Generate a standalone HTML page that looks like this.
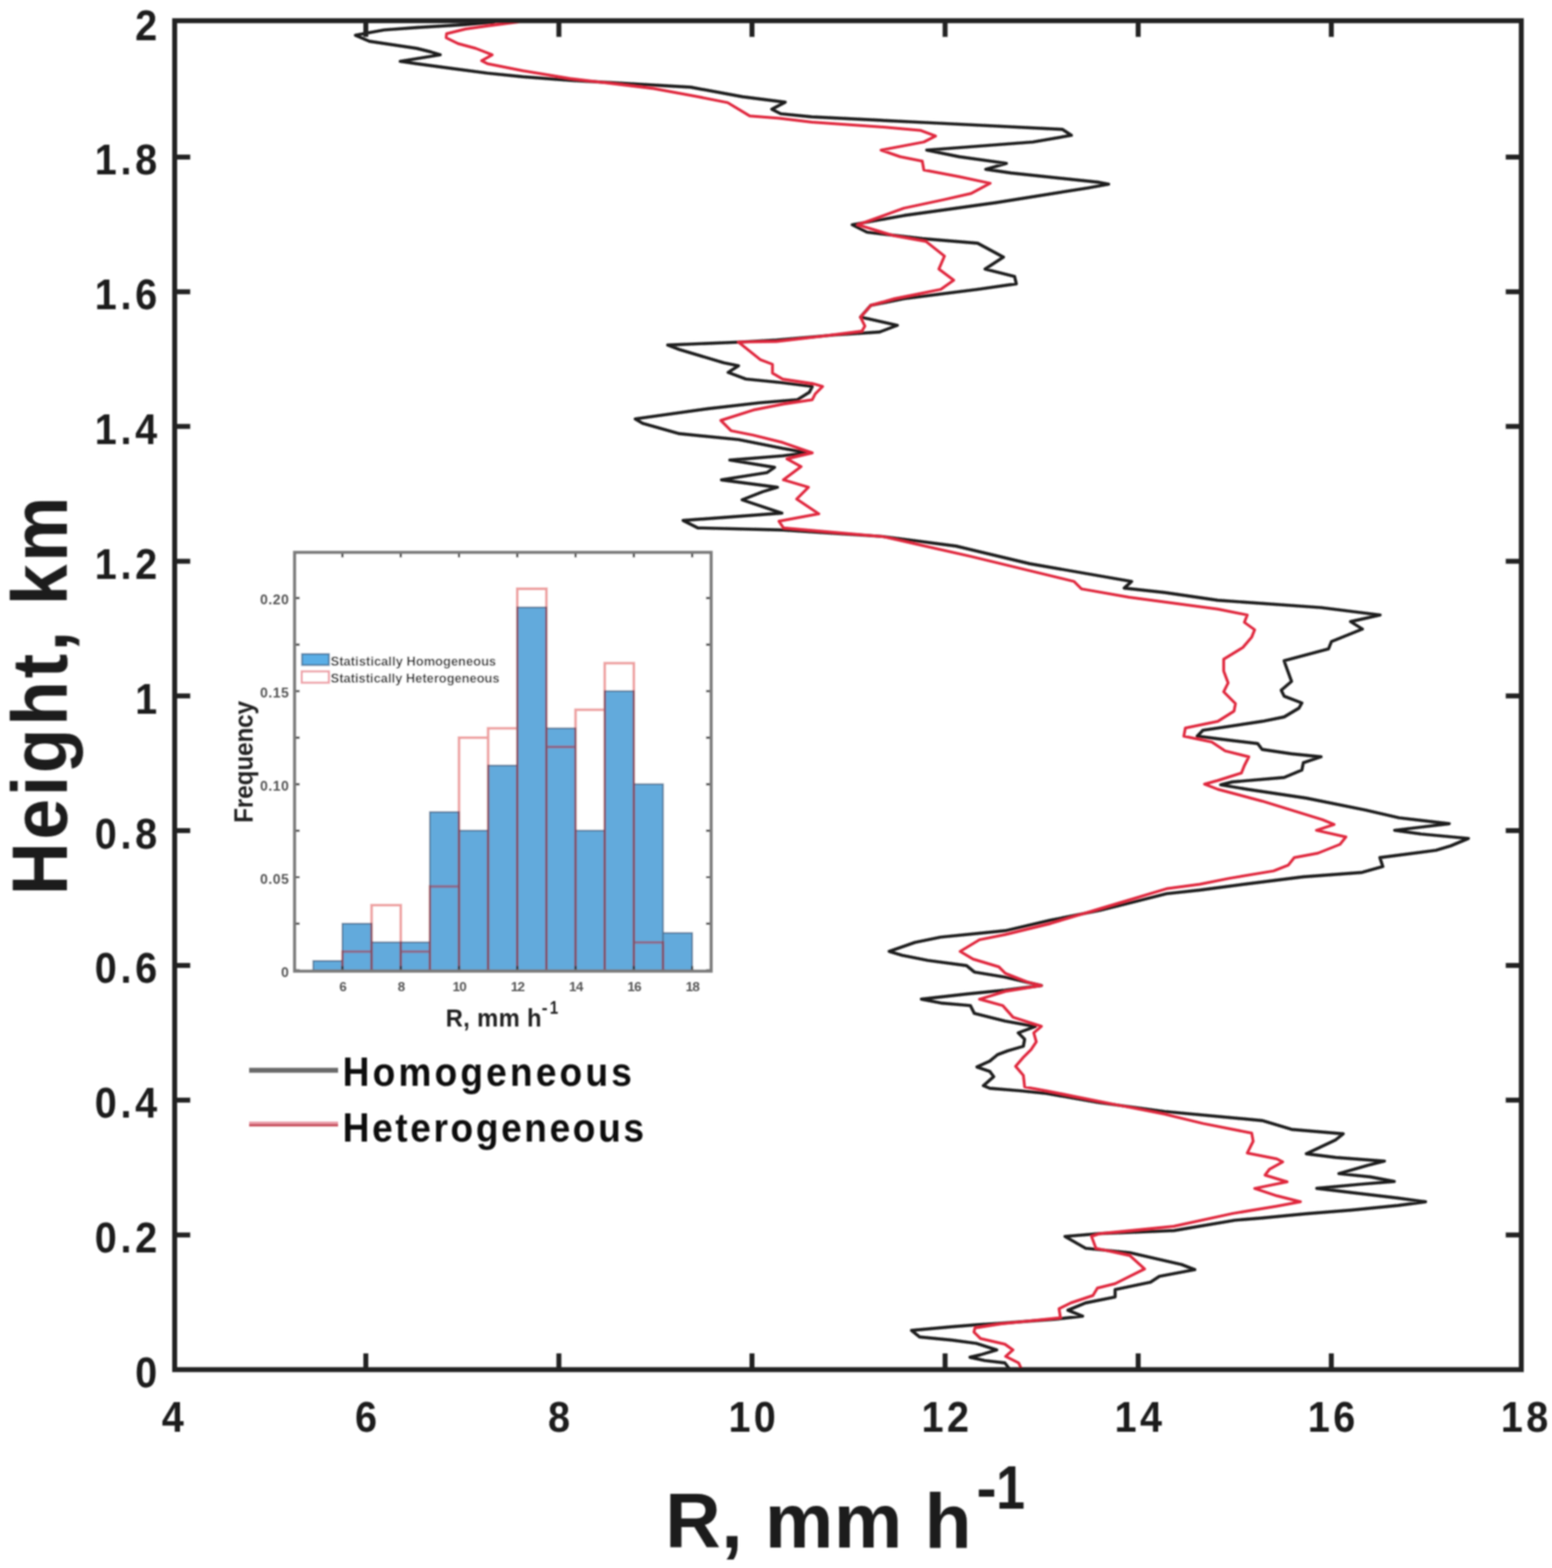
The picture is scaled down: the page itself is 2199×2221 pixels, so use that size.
<!DOCTYPE html>
<html lang="en"><head><meta charset="utf-8"><title>Rain rate vertical profile</title>
<style>html,body{margin:0;padding:0;background:#fff;}svg{display:block;}text{font-family:"Liberation Sans",Arial,Helvetica,sans-serif;font-weight:bold;}</style>
</head><body>
<svg xmlns="http://www.w3.org/2000/svg" width="2199" height="2221" viewBox="0 0 2199 2221">
<rect x="0" y="0" width="2199" height="2221" fill="#fff"/>
<defs><filter id="soft" x="0" y="0" width="100%" height="100%" filterUnits="userSpaceOnUse"><feGaussianBlur stdDeviation="0.85"/></filter></defs>
<g filter="url(#soft)">
<defs><clipPath id="cp"><rect x="247.5" y="29.3" width="1908.0" height="1910.7"/></clipPath></defs>
<g clip-path="url(#cp)" fill="none" stroke-linejoin="round" stroke-linecap="round">
<polyline points="700,31.5 657,35 590.6,39 544.4,42.4 503.6,49.9 523.5,58.5 590.4,68.5 610.4,73.5 623.8,77.7 567,86.9 590.4,90.3 640.5,97 690.7,103.6 741,108.7 807.8,113.7 978.6,123.5 1051.8,137 1112.5,144.8 1093.6,154.8 1106.2,161.1 1150,165.5 1317.3,173.9 1505.5,183.3 1518,191.7 1463.6,201.1 1313,212.6 1359,222 1426,231.4 1396.7,239.8 1432.3,245 1557.7,258.3 1570.8,260.9 1542,266.1 1411.4,287 1280.7,305.3 1207.5,318.4 1228.4,328.9 1306.8,338 1385.2,344.5 1421.8,364.2 1395.7,381.1 1437.5,391.6 1440,402 1385.2,409.9 1280.7,423 1233.8,432.5 1219.2,449.3 1229.6,451.4 1271.5,460.8 1246.4,470.2 1183.6,474.4 1100,481.7 1046.4,484.6 946,488.8 962.7,495.1 1025.5,513.9 1046.4,518.1 1031.7,527.5 1056.8,536.9 1109,542.1 1150.9,547.4 1146.7,555.7 1130,566.2 1077.7,570.4 1004.5,578.7 900,593.4 910.5,599.6 962.7,614.3 1046.4,622.6 1109,635.2 1145,641.5 1109,645.6 1034,651.7 1097.5,662 1087,669.3 1022.2,679.7 1101.6,690.2 1080.7,696.5 1051.5,708 1107.9,726.8 967.8,737.2 988.7,747.7 1110,750.8 1250,759.9 1354.5,773.5 1459.1,798.5 1603.4,823.6 1592.9,833 1650,839.3 1725.5,850.2 1871.8,860.6 1955.5,871.1 1913.6,880.5 1930.4,891 1886.5,908.7 1882.3,919.2 1819.5,935.9 1821.6,942.2 1830,965.2 1815.4,977.7 1819.5,986.1 1844.6,995.7 1840.5,1003 1819.5,1015.5 1788.2,1021.8 1704.5,1034.4 1696.2,1042.7 1746.4,1049 1781.9,1053.2 1788.2,1061.5 1830,1067.8 1871.8,1072 1846.7,1080.4 1844.6,1090.8 1819.5,1101.3 1746.4,1107.5 1729.6,1111.7 1767.3,1118 1850.9,1130.5 1934.6,1147.3 1982.3,1158.4 2053.4,1166.7 1976,1176.1 2013.6,1181.4 2080.6,1187.6 2055.5,1198.1 2034.6,1204.4 1955.1,1214.8 1959.3,1227.4 1930,1235.7 1846.4,1242 1762.7,1252.5 1700,1260.8 1652.9,1265.9 1558.8,1289.4 1488.2,1303.5 1424.4,1318.3 1333,1327.4 1296.4,1334.8 1259.8,1347.6 1278.1,1353.1 1314.7,1360.4 1369.5,1367.7 1380.5,1376.8 1424.4,1384.2 1475.6,1396 1424.4,1402.5 1369.5,1408 1305.5,1415.3 1333,1420.7 1375,1424.4 1380.5,1435.4 1424.4,1446.4 1467,1454 1442.7,1463 1451.8,1472 1450,1482 1428,1488.4 1413.4,1493.9 1402.4,1503 1384.2,1511.3 1402.4,1517.7 1408,1525 1393.3,1537.8 1402.4,1541.5 1446.4,1545.1 1483,1548.8 1556.1,1561.6 1650,1574.4 1788.2,1587.2 1830,1599.7 1903.2,1606 1892.7,1614.4 1850.9,1634.2 1892.7,1639.5 1961.7,1644.7 1938,1650.6 1897,1662.4 1941.5,1667 1975.5,1673.5 1928.4,1677.4 1865.7,1683.3 1915.3,1689.2 1980.7,1697 2019.9,1702.3 1980.7,1707.5 1915.3,1714 1850,1719.3 1788.2,1725.2 1750,1728.4 1663.6,1743 1559.1,1747.2 1508.9,1751.4 1538.2,1768.1 1600.9,1774.4 1674.1,1791.1 1692.9,1798.4 1642.7,1807.8 1630.2,1816.2 1580,1826.6 1580,1837.1 1538.2,1845.5 1513.1,1855.9 1534,1864.3 1496.4,1868.5 1412.7,1874.7 1383.5,1876.5 1349,1879.3 1291.5,1884.5 1303,1893.7 1349,1898.3 1383.5,1902.9 1412.3,1912.1 1389.3,1919 1374.3,1922.5 1395,1927.1 1423.8,1930.5 1429.5,1938" stroke="#1e1e1e" stroke-width="4.4"/>
<polyline points="735,31 690.7,36.7 660,41 632.7,47.8 632.2,53.5 649,61.8 674,68.5 697.4,77.7 682.4,86 690.7,90.3 741,100.3 807.8,111.2 926.4,125.5 989,137 1031,145.4 1062.3,164.2 1104,167.4 1150,172.9 1254.5,180.2 1304.7,184.8 1325.6,192.7 1309,201.1 1248.3,212.6 1275.5,222 1306.8,228.3 1309,240.8 1359,250.2 1403,259.6 1376,274 1338.2,282.6 1280.7,294.9 1215.3,318.4 1267.6,334.1 1312,342 1338.2,362.8 1330.3,381.1 1351.3,396.8 1333,409.9 1267.6,423 1233.8,432.5 1219.2,449.3 1225.5,461.8 1221.3,469.1 1162.7,476.5 1100,483.8 1046.4,484.6 1056.8,493 1077.7,509.7 1094.5,516 1094.5,528.5 1109,536.9 1150.9,543.2 1165.6,547.4 1155.1,557.8 1150.9,566.2 1109,572.5 1067.3,580.8 1021.3,595.5 1035.9,610.1 1067.3,616.4 1109,626.8 1150.9,641.5 1115,650 1135.1,660.9 1110,679.7 1145.5,690.2 1128.8,706.9 1160.2,727.8 1103.7,738.3 1110,747.7 1250,759.9 1375.5,788.1 1521.8,823.6 1532.3,834.1 1600,846 1725.5,862.7 1767.3,871.1 1763.1,881.5 1777.7,892 1773.5,902.5 1761,917.1 1733.8,933.8 1733.8,950.5 1740.1,967.3 1733.8,979.8 1750.5,996.6 1748.5,1007.2 1725.5,1021.8 1679.5,1031.2 1677.4,1042.7 1717.1,1051.1 1735.9,1063.6 1769.4,1072 1763.1,1084.5 1758.9,1095 1725.5,1105.5 1706.6,1110.7 1725.5,1118 1788.2,1134.7 1874,1161.2 1890.3,1167.8 1865.2,1176.1 1907,1185.5 1898.6,1196 1867.3,1208.5 1833.8,1214.8 1825.5,1225.3 1804.5,1233.6 1741.8,1244.1 1700,1252.5 1652.9,1258.8 1558.8,1287 1488.2,1308.2 1424.4,1323.8 1387.8,1331.1 1360.4,1347.6 1378.7,1358.5 1415.3,1369.5 1424.4,1378.7 1457.4,1391.5 1475.6,1396 1424.4,1404.3 1387.8,1415.3 1420.8,1424.4 1435.4,1440.9 1475.6,1453.7 1464.7,1463 1468.3,1475.6 1461,1486.6 1450,1497.6 1439,1510.4 1450,1523.2 1451.8,1539.6 1483,1545.1 1519.5,1552.5 1574.4,1563.4 1650,1578.1 1704.5,1591.4 1773.5,1605 1775.6,1616.5 1767.3,1633.2 1809.1,1641.5 1817.5,1645.7 1798.6,1656.2 1792.4,1664.5 1823.7,1674 1777.7,1683.4 1809.1,1693.8 1842.6,1702.2 1809.1,1708.5 1746.4,1718.9 1663,1737 1559.1,1747.2 1546.6,1751.4 1552.8,1768.1 1600.9,1778.5 1621.8,1797.4 1600.9,1807.8 1580,1818.3 1554.9,1824.5 1548.6,1835 1517.3,1845.5 1500.5,1853.8 1502.6,1866.4 1418,1875.3 1381.4,1881 1380,1886.8 1389.3,1896 1423.8,1904 1435.3,1912.1 1424.9,1921.3 1443.3,1930.5 1446.8,1938" stroke="#e0283c" stroke-width="4.0"/>
</g>
<path d="M247.5,1749.2H269.5M2155.5,1749.2H2133.5M247.5,1558.3H269.5M2155.5,1558.3H2133.5M247.5,1367.5H269.5M2155.5,1367.5H2133.5M247.5,1176.6H269.5M2155.5,1176.6H2133.5M247.5,985.8H269.5M2155.5,985.8H2133.5M247.5,795.0H269.5M2155.5,795.0H2133.5M247.5,604.1H269.5M2155.5,604.1H2133.5M247.5,413.3H269.5M2155.5,413.3H2133.5M247.5,222.4H269.5M2155.5,222.4H2133.5M518.3,1940.0V1917.0M518.3,29.3V52.3M791.9,1940.0V1917.0M791.9,29.3V52.3M1065.5,1940.0V1917.0M1065.5,29.3V52.3M1339.1,1940.0V1917.0M1339.1,29.3V52.3M1612.7,1940.0V1917.0M1612.7,29.3V52.3M1886.3,1940.0V1917.0M1886.3,29.3V52.3" stroke="#222" stroke-width="7" fill="none"/>
<rect x="247.5" y="29.3" width="1908.0" height="1910.7" fill="none" stroke="#222" stroke-width="7"/>
<text transform="translate(228.0,1964.9) scale(0.92,1)" font-size="61.0" letter-spacing="5.72" text-anchor="end" fill="#1a1a1a">0</text>
<text transform="translate(228.0,1774.1) scale(0.92,1)" font-size="61.0" letter-spacing="5.72" text-anchor="end" fill="#1a1a1a">0.2</text>
<text transform="translate(228.0,1583.2) scale(0.92,1)" font-size="61.0" letter-spacing="5.72" text-anchor="end" fill="#1a1a1a">0.4</text>
<text transform="translate(228.0,1392.4) scale(0.92,1)" font-size="61.0" letter-spacing="5.72" text-anchor="end" fill="#1a1a1a">0.6</text>
<text transform="translate(228.0,1201.5) scale(0.92,1)" font-size="61.0" letter-spacing="5.72" text-anchor="end" fill="#1a1a1a">0.8</text>
<text transform="translate(228.0,1010.7) scale(0.92,1)" font-size="61.0" letter-spacing="5.72" text-anchor="end" fill="#1a1a1a">1</text>
<text transform="translate(228.0,819.9) scale(0.92,1)" font-size="61.0" letter-spacing="5.72" text-anchor="end" fill="#1a1a1a">1.2</text>
<text transform="translate(228.0,629.0) scale(0.92,1)" font-size="61.0" letter-spacing="5.72" text-anchor="end" fill="#1a1a1a">1.4</text>
<text transform="translate(228.0,438.2) scale(0.92,1)" font-size="61.0" letter-spacing="5.72" text-anchor="end" fill="#1a1a1a">1.6</text>
<text transform="translate(228.0,247.3) scale(0.92,1)" font-size="61.0" letter-spacing="5.72" text-anchor="end" fill="#1a1a1a">1.8</text>
<text transform="translate(228.0,56.5) scale(0.92,1)" font-size="61.0" letter-spacing="5.72" text-anchor="end" fill="#1a1a1a">2</text>
<text transform="translate(247.3,2028.4) scale(0.92,1)" font-size="61.0" letter-spacing="5.17" text-anchor="middle" fill="#1a1a1a">4</text>
<text transform="translate(520.9,2028.4) scale(0.92,1)" font-size="61.0" letter-spacing="5.17" text-anchor="middle" fill="#1a1a1a">6</text>
<text transform="translate(794.5,2028.4) scale(0.92,1)" font-size="61.0" letter-spacing="5.17" text-anchor="middle" fill="#1a1a1a">8</text>
<text transform="translate(1068.1,2028.4) scale(0.92,1)" font-size="61.0" letter-spacing="5.17" text-anchor="middle" fill="#1a1a1a">10</text>
<text transform="translate(1341.7,2028.4) scale(0.92,1)" font-size="61.0" letter-spacing="5.17" text-anchor="middle" fill="#1a1a1a">12</text>
<text transform="translate(1615.3,2028.4) scale(0.92,1)" font-size="61.0" letter-spacing="5.17" text-anchor="middle" fill="#1a1a1a">14</text>
<text transform="translate(1888.9,2028.4) scale(0.92,1)" font-size="61.0" letter-spacing="5.17" text-anchor="middle" fill="#1a1a1a">16</text>
<text transform="translate(2162.5,2028.4) scale(0.92,1)" font-size="61.0" letter-spacing="5.17" text-anchor="middle" fill="#1a1a1a">18</text>
<text transform="translate(94.8,1268.0) rotate(-90) scale(0.93,1)" font-size="111.6" letter-spacing="4.08" fill="#1a1a1a">Height, km</text>
<text transform="translate(942.5,2191.7)" font-size="109.0" letter-spacing="0.67" fill="#1a1a1a">R, mm h</text>
<text transform="translate(1383.5,2136.7)" font-size="86.0" fill="#1a1a1a">-</text>
<text transform="translate(1411.5,2136.9) scale(0.85,1)" font-size="86.3" fill="#1a1a1a">1</text>
<rect x="353" y="1512.5" width="126" height="7" fill="#6a6a6a"/>
<rect x="353" y="1588.7" width="126" height="3.4" fill="#e99aa6"/>
<rect x="353" y="1592.1" width="126" height="3.4" fill="#c64a57"/>
<text transform="translate(485.5,1537.7) scale(0.92,1)" font-size="57.2" letter-spacing="4.83" fill="#111">Homogeneous</text>
<text transform="translate(485.5,1616.8) scale(0.92,1)" font-size="57.2" letter-spacing="3.99" fill="#111">Heterogeneous</text>
<rect x="417.5" y="782.5" width="590.0" height="593.0" fill="#fff"/>
<rect x="443.9" y="1361.1" width="41.3" height="13.2" fill="#62aadc" stroke="#52789a" stroke-width="2.3"/>
<rect x="485.2" y="1308.4" width="41.3" height="65.9" fill="#62aadc" stroke="#52789a" stroke-width="2.3"/>
<rect x="526.5" y="1334.8" width="41.3" height="39.5" fill="#62aadc" stroke="#52789a" stroke-width="2.3"/>
<rect x="567.8" y="1334.8" width="41.3" height="39.5" fill="#62aadc" stroke="#52789a" stroke-width="2.3"/>
<rect x="609.1" y="1150.3" width="41.3" height="224.0" fill="#62aadc" stroke="#52789a" stroke-width="2.3"/>
<rect x="650.4" y="1176.6" width="41.3" height="197.7" fill="#62aadc" stroke="#52789a" stroke-width="2.3"/>
<rect x="691.6" y="1084.4" width="41.3" height="289.9" fill="#62aadc" stroke="#52789a" stroke-width="2.3"/>
<rect x="732.9" y="860.4" width="41.3" height="513.9" fill="#62aadc" stroke="#52789a" stroke-width="2.3"/>
<rect x="774.2" y="1031.7" width="41.3" height="342.6" fill="#62aadc" stroke="#52789a" stroke-width="2.3"/>
<rect x="815.5" y="1176.6" width="41.3" height="197.7" fill="#62aadc" stroke="#52789a" stroke-width="2.3"/>
<rect x="856.8" y="979.0" width="41.3" height="395.3" fill="#62aadc" stroke="#52789a" stroke-width="2.3"/>
<rect x="898.1" y="1110.8" width="41.3" height="263.5" fill="#62aadc" stroke="#52789a" stroke-width="2.3"/>
<rect x="939.4" y="1321.6" width="41.3" height="52.7" fill="#62aadc" stroke="#52789a" stroke-width="2.3"/>
<path d="M485.2,1347.9H526.5M526.5,1282.1H567.8M567.8,1347.9H609.1M609.1,1255.7H650.4M650.4,1044.9H691.6M691.6,1031.7H732.9M732.9,834.0H774.2M774.2,1058.0H815.5M815.5,1005.3H856.8M856.8,939.4H898.1M898.1,1334.8H939.4M485.2,1374.3V1347.9M526.5,1374.3V1282.1M567.8,1374.3V1282.1M609.1,1374.3V1255.7M650.4,1374.3V1044.9M691.6,1374.3V1031.7M732.9,1374.3V834.0M774.2,1374.3V834.0M815.5,1374.3V1005.3M856.8,1374.3V939.4M898.1,1374.3V939.4M939.4,1374.3V1334.8" fill="none" stroke="#d20000" stroke-opacity="0.37" stroke-width="3.8" stroke-linecap="square"/>
<path d="M417.5,1374.3H424.5M1007.5,1374.3H1000.5M417.5,1308.4H424.5M1007.5,1308.4H1000.5M417.5,1242.5H424.5M1007.5,1242.5H1000.5M417.5,1176.6H424.5M1007.5,1176.6H1000.5M417.5,1110.8H424.5M1007.5,1110.8H1000.5M417.5,1044.9H424.5M1007.5,1044.9H1000.5M417.5,979.0H424.5M1007.5,979.0H1000.5M417.5,913.1H424.5M1007.5,913.1H1000.5M417.5,847.2H424.5M1007.5,847.2H1000.5M485.2,1375.5V1368.5M485.2,782.5V789.5M567.8,1375.5V1368.5M567.8,782.5V789.5M650.4,1375.5V1368.5M650.4,782.5V789.5M732.9,1375.5V1368.5M732.9,782.5V789.5M815.5,1375.5V1368.5M815.5,782.5V789.5M898.1,1375.5V1368.5M898.1,782.5V789.5M980.7,1375.5V1368.5M980.7,782.5V789.5" stroke="#3a3a3a" stroke-width="3.2" fill="none"/>
<rect x="417.5" y="782.5" width="590.0" height="593.0" fill="none" stroke="#7c7c7c" stroke-width="4.5"/>
<text transform="translate(410.0,1383.5)" font-size="19.7" letter-spacing="0.80" text-anchor="end" fill="#555">0</text>
<text transform="translate(410.0,1251.8)" font-size="19.7" letter-spacing="0.80" text-anchor="end" fill="#555">0.05</text>
<text transform="translate(410.0,1120.0)" font-size="19.7" letter-spacing="0.80" text-anchor="end" fill="#555">0.10</text>
<text transform="translate(410.0,988.2)" font-size="19.7" letter-spacing="0.80" text-anchor="end" fill="#555">0.15</text>
<text transform="translate(410.0,856.4)" font-size="19.7" letter-spacing="0.80" text-anchor="end" fill="#555">0.20</text>
<text transform="translate(485.6,1403.5)" font-size="19.0" letter-spacing="-1.00" text-anchor="middle" fill="#555">6</text>
<text transform="translate(568.2,1403.5)" font-size="19.0" letter-spacing="-1.00" text-anchor="middle" fill="#555">8</text>
<text transform="translate(650.8,1403.5)" font-size="19.0" letter-spacing="-1.00" text-anchor="middle" fill="#555">10</text>
<text transform="translate(733.3,1403.5)" font-size="19.0" letter-spacing="-1.00" text-anchor="middle" fill="#555">12</text>
<text transform="translate(815.9,1403.5)" font-size="19.0" letter-spacing="-1.00" text-anchor="middle" fill="#555">14</text>
<text transform="translate(898.5,1403.5)" font-size="19.0" letter-spacing="-1.00" text-anchor="middle" fill="#555">16</text>
<text transform="translate(981.1,1403.5)" font-size="19.0" letter-spacing="-1.00" text-anchor="middle" fill="#555">18</text>
<text transform="translate(358.3,1165.5) rotate(-90) scale(0.93,1)" font-size="37.0" letter-spacing="-0.17" fill="#222">Frequency</text>
<text transform="translate(631.5,1454.0) scale(0.95,1)" font-size="35.5" letter-spacing="0.51" fill="#222">R, mm h</text>
<text transform="translate(767.5,1435.8)" font-size="25.0" fill="#222">-</text>
<text transform="translate(779.0,1435.9) scale(0.85,1)" font-size="25.1" fill="#222">1</text>
<rect x="428" y="926.5" width="38" height="15.5" fill="#5aaee6" stroke="#4d7fa6" stroke-width="2.6"/>
<rect x="427.5" y="951" width="38.5" height="16" fill="#fff" stroke="#eea0a8" stroke-width="3"/>
<text transform="translate(468.5,942.6) scale(0.95,1)" font-size="19.0" letter-spacing="0.17" fill="#1e1e1e">Statistically Homogeneous</text>
<text transform="translate(468.5,966.6) scale(0.95,1)" font-size="19.0" letter-spacing="0.11" fill="#1e1e1e">Statistically Heterogeneous</text>
</g>
</svg>
</body></html>
